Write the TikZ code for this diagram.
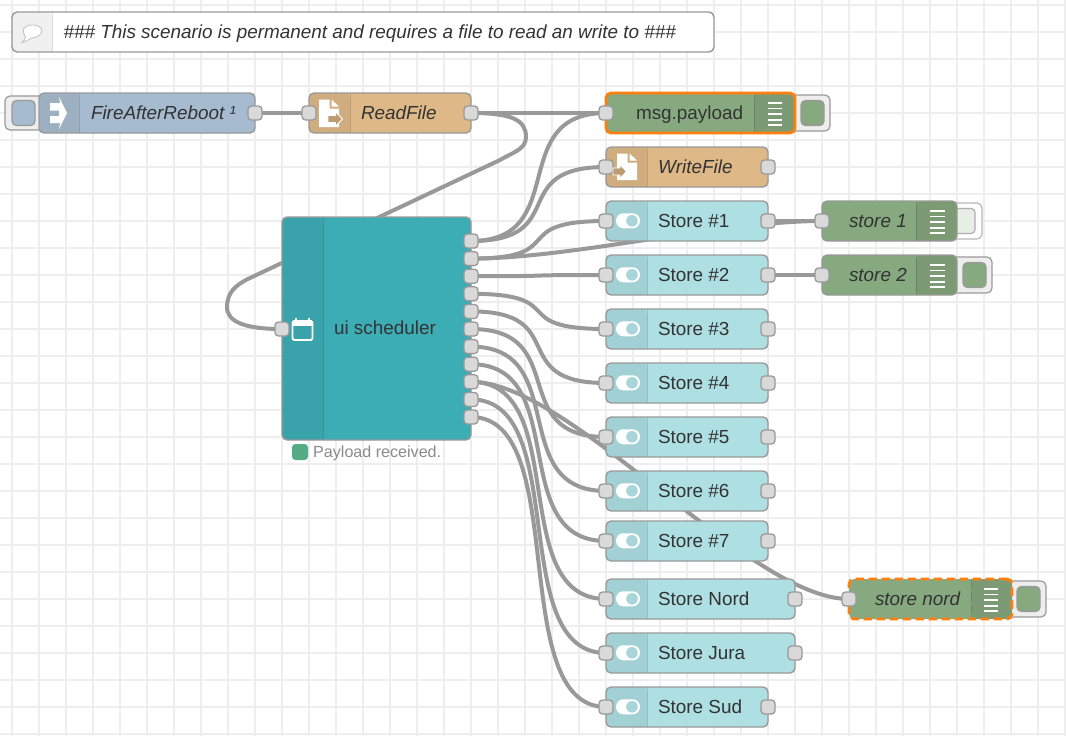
\documentclass[tikz,border=0pt]{standalone}
\usepackage{fontspec}
\setmainfont{Liberation Sans}
\usetikzlibrary{backgrounds}
\definecolor{gridc}{HTML}{EEEEEE}
\definecolor{wirec}{HTML}{999999}
\definecolor{txt}{HTML}{333333}
\definecolor{injc}{HTML}{A6BBCF}
\definecolor{filec}{HTML}{DEB887}
\definecolor{dbgc}{HTML}{87A980}
\definecolor{swc}{HTML}{ADDFE3}
\definecolor{swd}{HTML}{A8D5D9}
\definecolor{schc}{HTML}{3DADB5}
\definecolor{stc}{HTML}{55AA88}
\definecolor{orng}{HTML}{FF7F0E}
\definecolor{btnc}{HTML}{EEEEEE}
\definecolor{portc}{HTML}{D9D9D9}
\newcommand{\tline}{\rule[-4.2pt]{0pt}{21pt}}
\tikzset{
 x=1pt,y=-1pt,
 box/.style={draw=wirec,line width=1.4pt,rounded corners=5pt,inner sep=0pt,outer sep=0pt,anchor=north west,text=txt,font=\fontsize{18.9}{20}\selectfont,minimum height=40pt},
 ital/.style={font=\fontsize{18.9}{20}\selectfont\itshape},
 ileft/.style={path picture={
   \fill[black,opacity=.06] (path picture bounding box.north west) rectangle ++(#1,50);
   \draw[black,opacity=.13,line width=1pt] ([xshift=#1 pt]path picture bounding box.north west) -- ++(0,500);}},
 iright/.style={path picture={
   \fill[black,opacity=.08] ([xshift=-#1 pt]path picture bounding box.north east) rectangle ++(#1,50);
   \draw[black,opacity=.13,line width=1pt] ([xshift=-#1 pt]path picture bounding box.north east) -- ++(0,50);}},
 port/.style={draw=wirec,fill=portc,line width=1.3pt,rounded corners=3.5pt,inner sep=0pt,outer sep=0pt,minimum width=14pt,minimum height=14pt,anchor=center},
 wire/.style={draw=wirec,line width=4pt},
 btn/.style={draw=wirec,fill=btnc,line width=1.2pt,rounded corners=5pt,inner sep=0pt,outer sep=0pt,anchor=north west},
 btnin/.style={draw=wirec,line width=1.3pt,rounded corners=4.5pt,inner sep=0pt,outer sep=0pt,anchor=north west,minimum width=23pt,minimum height=25pt},
 swbox/.style={box,fill=swc,ileft=41},
}
% #1 name #2 x #3 y #4 width #5 text : switch node with toggle icon, ports at both sides
\newcommand{\swnode}[5]{%
 \node[swbox,minimum width=#4 pt] (#1) at (#2,#3) {\makebox[#4pt][l]{\hspace*{52pt}\tline #5}};
 \node[port] (#1i) at (#2,#3+20) {};
 \node[port] (#1o) at (#2+#4,#3+20) {};
 \fill[white,rounded corners=7.4pt] (#2+10,#3+12.3) rectangle (#2+34,#3+27.3);
 \fill[swd] (#2+26,#3+19.8) circle (5.8);
}
\newcommand{\dbglines}[2]{%
 \foreach \k in {0,1,2,3,4}{\fill[white] (#1,#2+\k*5.6) rectangle ++(14.5,1.8);}
}
\begin{document}
\begin{tikzpicture}
\useasboundingbox (0,0) rectangle (1066,736);
% comment
\node[box,ital,fill=white,minimum width=702pt,ileft=40] (cmt) at (12,12) {\makebox[702pt][l]{\hspace*{51.5pt}\tline \#\#\# This scenario is permanent and requires a file to read an write to \#\#\#}};
\draw[wirec!60,fill=white,line width=.8pt] (25.5,37) .. controls (22,32) and (21.5,25) .. (32.5,25) .. controls (44,25) and (46,36) .. (32,38) .. controls (29,39) and (26,42) .. (22,42.5) .. controls (24,41) and (25.5,39) .. (25.5,37) -- cycle;
% inject
\node[btn,minimum width=40pt,minimum height=34pt] (injb) at (5,96) {};
\node[btnin,fill=injc] (injbi) at (12,100.5) {};
\node[box,ital,fill=injc,minimum width=216pt,ileft=40] (inj) at (39,93) {\makebox[216pt][l]{\hspace*{52pt}\tline FireAfterReboot ¹}};
\node[port] (injo) at (255,113) {};
\fill[white] (50,103) rectangle (59,110.5) (50,116) rectangle (59,123);
\fill[white] (59,97) -- (67,113) -- (59,129) -- (62,113) -- cycle;
\fill[white] (59,103) rectangle (62,123);
% readfile
\node[box,ital,fill=filec,minimum width=162pt,ileft=41] (rf) at (309,93) {\makebox[162pt][l]{\hspace*{52pt}\tline ReadFile}};
\node[port] (rfi) at (309,113) {};
\node[port] (rfo) at (471,113) {};
\fill[white] (319,99.5) -- (329.5,99.5) -- (329.5,108.5) -- (339,108.5) -- (339,127) -- (319,127) -- cycle;
\fill[white] (331.5,99.5) -- (339,106.5) -- (331.5,106.5) -- cycle;
\fill[filec!85!black,draw=white,line width=.9pt] (328,115.5) -- (335.5,115.5) -- (335.5,112) -- (342.5,119) -- (335.5,126) -- (335.5,122.5) -- (328,122.5) -- cycle;
% msg.payload
\node[btn,minimum width=40pt,minimum height=36pt] (mpb) at (790,95) {};
\node[btnin,fill=dbgc] (mpbi) at (801,100.5) {};
\node[box,draw=orng,line width=2.8pt,fill=dbgc,minimum width=189pt,iright=41] (mp) at (606,93) {\makebox[189pt][l]{\hspace*{30pt}\tline msg.payload}};
\node[port] (mpi) at (606,113) {};
\dbglines{767.5}{102}
% writefile
\node[box,ital,fill=filec,minimum width=162pt,ileft=41] (wf) at (606,147) {\makebox[162pt][l]{\hspace*{52pt}\tline WriteFile}};
\node[port] (wfi) at (606,167) {};
\node[port] (wfo) at (768,167) {};
\fill[white] (617,153.5) -- (627.5,153.5) -- (627.5,162.5) -- (637,162.5) -- (637,180) -- (617,180) -- cycle;
\fill[white] (629.5,153.5) -- (637,160.5) -- (629.5,160.5) -- cycle;
\fill[filec!85!black,draw=white,line width=.9pt] (613,168) -- (620,168) -- (620,164.5) -- (626.5,171.5) -- (620,178.5) -- (620,175) -- (613,175) -- cycle;
% stores
\swnode{sa}{606}{201}{162}{Store \#1}
\swnode{sb}{606}{255}{162}{Store \#2}
\swnode{sc}{606}{309}{162}{Store \#3}
\swnode{sd}{606}{363}{162}{Store \#4}
\swnode{se}{606}{417}{162}{Store \#5}
\swnode{sf}{606}{471}{162}{Store \#6}
\swnode{sg}{606}{521}{162}{Store \#7}
\swnode{sn}{606}{579}{189}{Store Nord}
\swnode{sj}{606}{633}{189}{Store Jura}
\swnode{ss}{606}{687}{162}{Store Sud}
% debug store 1 (faded button)
\node[btn,draw=wirec!70,fill=white,minimum width=30pt,minimum height=36pt] (d1b) at (952,203) {};
\node[btn,draw=wirec!80,fill=dbgc!20!white,rounded corners=4pt,minimum width=23pt,minimum height=25pt] (d1bi) at (952,208.5) {};
\node[box,ital,fill=dbgc,minimum width=135pt,iright=41] (d1) at (822,201) {\makebox[135pt][l]{\hspace*{27pt}\tline store 1}};
\node[port] (d1i) at (822,221) {};
\dbglines{930}{210}
% debug store 2
\node[btn,minimum width=40pt,minimum height=36pt] (d2b) at (952,257) {};
\node[btnin,fill=dbgc] (d2bi) at (963,262.5) {};
\node[box,ital,fill=dbgc,minimum width=135pt,iright=41] (d2) at (822,255) {\makebox[135pt][l]{\hspace*{27pt}\tline store 2}};
\node[port] (d2i) at (822,275) {};
\dbglines{930}{264}
% debug store nord
\node[btn,minimum width=40pt,minimum height=36pt] (d3b) at (1006,581) {};
\node[btnin,fill=dbgc] (d3bi) at (1017,586.5) {};
\node[box,ital,draw=orng,line width=2.8pt,dash pattern=on 8.5pt off 4.5pt,fill=dbgc,minimum width=163pt,iright=41] (d3) at (849,579) {\makebox[163pt][l]{\hspace*{26pt}\tline store nord}};
\node[port] (d3i) at (849,599) {};
\dbglines{983.5}{588}
% scheduler
\node[box,fill=schc,minimum width=189pt,minimum height=223pt,path picture={
   \fill[black,opacity=.06] (path picture bounding box.north west) rectangle ++(41,300);
   \draw[black,opacity=.13,line width=1pt] ([xshift=41pt]path picture bounding box.north west) -- ++(0,300);}] (sch) at (282,217) {\makebox[189pt][l]{\hspace*{52pt}\tline ui scheduler}};
\node[port] (schi) at (282,329) {};
\foreach \n/\y in {a/241,b/258.6,c/276.2,d/293.8,e/311.4,f/329,g/346.6,h/364.2,i/381.8,j/399.4,k/417}{
 \node[port] (so\n) at (471,\y) {};
}
\draw[white,line width=1.8pt,rounded corners=1.5pt] (292.5,321) rectangle (312.5,340);
\fill[white] (292.5,321) rectangle (312.5,325.5);
\draw[white,line width=1.8pt] (296,317.5) -- (296,321) (309,317.5) -- (309,321);
% status
\node[fill=stc,rounded corners=3.5pt,minimum width=16pt,minimum height=16pt,inner sep=0pt,outer sep=0pt,anchor=north west] (stb) at (292,444) {};
\node[anchor=west,inner sep=0pt,text=wirec!90!black,font=\fontsize{16.1}{18}\selectfont] (stt) at (313,453) {Payload received.};
% background: grid and wires
\begin{scope}[on background layer]
 \foreach \gx in {12,39,...,1066}{\draw[gridc,line width=1.6pt] (\gx,0) -- (\gx,736);}
 \foreach \gy in {5,32,...,736}{\draw[gridc,line width=1.6pt] (0,\gy) -- (1066,\gy);}
 \draw[wire] (injo.center) -- (rfi.center);
 \draw[wire] (rfo.center) -- (mpi.center);
 \draw[wire] (rfo.center) .. controls +(41,0) and +(0,-17) .. (526,137) .. controls +(0,13) and +(11,-7) .. (500,160) -- (250,278) .. controls +(-15,7) and +(0,-14) .. (227,307) .. controls +(0,15) and +(-37,0) .. (schi.center);
 \foreach \a/\b in {soa/mpi,soa/wfi,sob/sai,sob/d1i,soc/sbi,sod/sci,soe/sdi,sof/sei,sog/sfi,soh/sgi,soi/sni,soi/d3i,soj/sji,sok/ssi}{
  \draw[wire] (\a.center) .. controls +(101,0) and +(-101,0) .. (\b.center);
 }
 \draw[wire] (sao.center) .. controls +(25,0) and +(-25,0) .. (d1i.center);
 \draw[wire] (sbo.center) -- (d2i.center);
\end{scope}
\end{tikzpicture}
\end{document}
